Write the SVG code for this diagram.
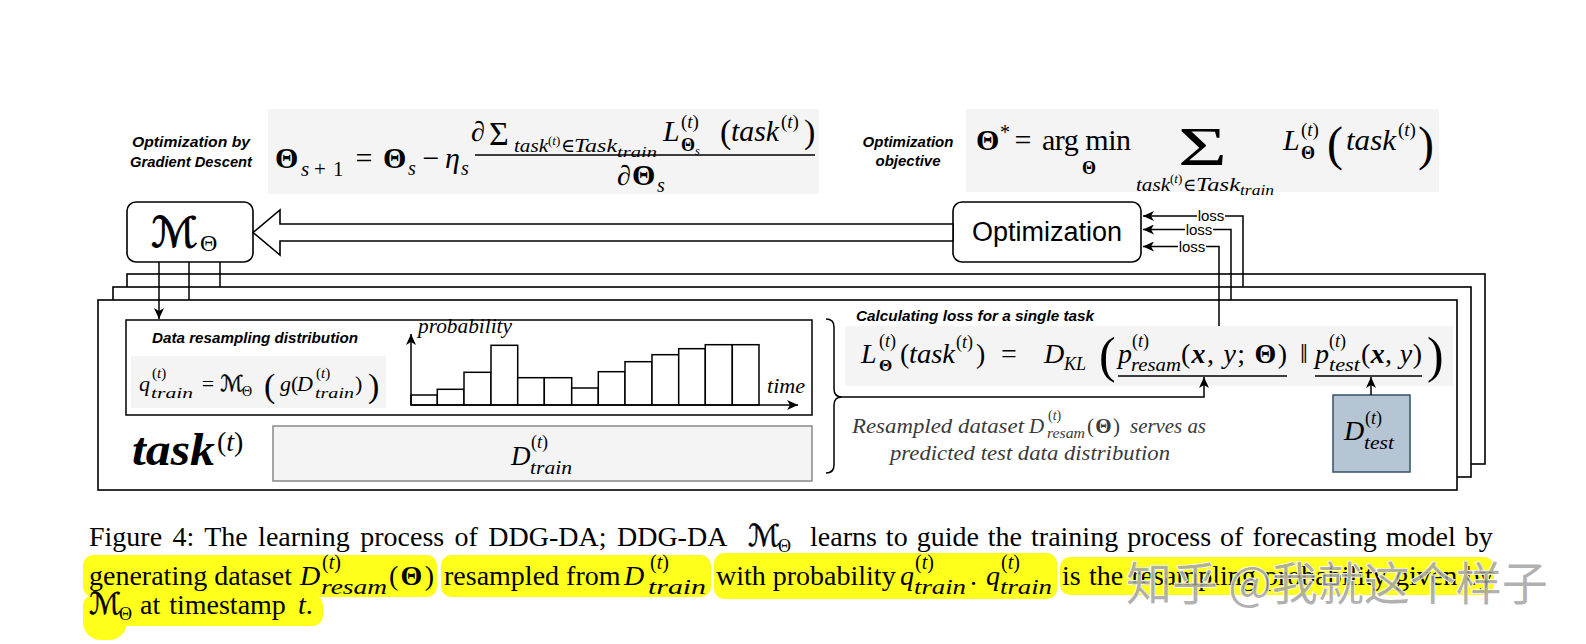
<svg xmlns="http://www.w3.org/2000/svg" width="1586" height="644" viewBox="0 0 1586 644">
<defs>
<style>
.mi{font-family:"Liberation Serif","DejaVu Serif",serif;font-style:italic}
.mr{font-family:"Liberation Serif","DejaVu Serif",serif;font-style:normal;font-weight:normal}
.mb{font-family:"Liberation Serif","DejaVu Serif",serif;font-style:normal;font-weight:bold}
.bx{font-family:"Liberation Serif","DejaVu Serif",serif;font-style:italic;font-weight:bold}
.cal{font-family:"DejaVu Sans","Noto Sans",sans-serif;font-style:normal}
.lbl{font-family:"Liberation Sans",Arial,sans-serif;font-weight:bold;font-style:italic;font-size:14px}
.sans{font-family:"Liberation Sans",Arial,sans-serif}
.gray{fill:#f4f4f4;stroke:none}
.frame{fill:#fff;stroke:#000;stroke-width:1.6}
.node{fill:#fff;stroke:#000;stroke-width:1.6}
.ln{fill:none;stroke:#000;stroke-width:1.5}
.bar{fill:#fff;stroke:#000;stroke-width:1.5}
.cap{font-family:"Liberation Serif","Times New Roman",serif;font-size:28px;fill:#000}
.hl{fill:#ffff1c}
</style>
<marker id="arr" markerUnits="userSpaceOnUse" markerWidth="12" markerHeight="10" refX="11" refY="5" orient="auto">
<path d="M0,0 L11,5 L0,10 L3,5 Z" fill="#000"/>
</marker>
</defs>
<rect width="1586" height="644" fill="#fff"/>

<g id="label-gd">
<text class="lbl" x="191" y="147" text-anchor="middle" style="font-size:15.5px" textLength="118" lengthAdjust="spacingAndGlyphs">Optimization by</text>
<text class="lbl" x="191" y="167" text-anchor="middle" style="font-size:15.5px" textLength="122" lengthAdjust="spacingAndGlyphs">Gradient Descent</text>
</g>
<g id="formula-gd">
<rect class="gray" x="268" y="109" width="551" height="85"/>
<text class="mb" x="275" y="168" font-size="30">Θ</text>
<text class="mi" x="301" y="176" font-size="21">s</text>
<text class="mr" x="314" y="176" font-size="21">+</text>
<text class="mr" x="333" y="176" font-size="21">1</text>
<text class="mr" x="364" y="168" font-size="30" text-anchor="middle">=</text>
<text class="mb" x="383" y="168" font-size="30">Θ</text>
<text class="mi" x="408" y="175" font-size="20">s</text>
<text class="mr" x="431" y="168" font-size="30" text-anchor="middle">−</text>
<text class="mi" x="445" y="168" font-size="30">η</text>
<text class="mi" x="461" y="175" font-size="20">s</text>
<line x1="475" y1="155" x2="815" y2="155" stroke="#000" stroke-width="1.3"/>
<text class="mi" x="471" y="141" font-size="28">∂</text>
<text class="mr" x="489" y="145" font-size="34">Σ</text>
<text class="mi" x="514" y="152" font-size="19" textLength="34" lengthAdjust="spacingAndGlyphs">task</text>
<text class="mr" x="548" y="145" font-size="13">(<tspan class="mi">t</tspan>)</text>
<text class="mr" x="561" y="152" font-size="19">∈</text>
<text class="mi" x="574" y="152" font-size="19" textLength="43" lengthAdjust="spacingAndGlyphs">Task</text>
<text class="mi" x="617" y="157" font-size="14" textLength="40" lengthAdjust="spacingAndGlyphs">train</text>
<text class="mi" x="663" y="141" font-size="30">L</text>
<text class="mr" x="681" y="128" font-size="19">(<tspan class="mi">t</tspan>)</text>
<text class="mb" x="681" y="151" font-size="18">Θ</text>
<text class="mi" x="695" y="155" font-size="12">s</text>
<text class="mr" x="720" y="143" font-size="34">(</text>
<text class="mi" x="731" y="141" font-size="30" textLength="48" lengthAdjust="spacingAndGlyphs">task</text>
<text class="mr" x="781" y="128" font-size="19">(<tspan class="mi">t</tspan>)</text>
<text class="mr" x="804" y="143" font-size="34">)</text>
<text class="mi" x="617" y="185" font-size="28">∂</text>
<text class="mb" x="632" y="185" font-size="30">Θ</text>
<text class="mi" x="657" y="192" font-size="20">s</text>
</g>

<g id="label-obj">
<text class="lbl" x="908" y="147" text-anchor="middle" style="font-size:15px">Optimization</text>
<text class="lbl" x="908" y="166" text-anchor="middle" style="font-size:15px">objective</text>
</g>
<g id="formula-obj">
<rect class="gray" x="966" y="109" width="473" height="83"/>
<text class="mb" x="976" y="150" font-size="30">Θ</text>
<text class="mr" x="1000" y="139" font-size="20">*</text>
<text class="mr" x="1023" y="150" font-size="30" text-anchor="middle">=</text>
<text class="mr" x="1042" y="150" font-size="30" textLength="89">arg min</text>
<text class="mb" x="1089" y="174" font-size="18" text-anchor="middle">Θ</text>
<text class="mr" x="1178" y="165" font-size="54" textLength="49" lengthAdjust="spacingAndGlyphs">Σ</text>
<text class="mi" x="1136" y="191" font-size="18" textLength="34" lengthAdjust="spacingAndGlyphs">task</text>
<text class="mr" x="1170" y="183" font-size="13">(<tspan class="mi">t</tspan>)</text>
<text class="mr" x="1183" y="191" font-size="18">∈</text>
<text class="mi" x="1196" y="191" font-size="18" textLength="44" lengthAdjust="spacingAndGlyphs">Task</text>
<text class="mi" x="1240" y="195" font-size="14" textLength="34" lengthAdjust="spacingAndGlyphs">train</text>
<text class="mi" x="1283" y="150" font-size="30">L</text>
<text class="mr" x="1301" y="136" font-size="19">(<tspan class="mi">t</tspan>)</text>
<text class="mb" x="1301" y="159" font-size="18">Θ</text>
<text class="mr" x="1327" y="160" font-size="48">(</text>
<text class="mi" x="1346" y="150" font-size="30" textLength="50" lengthAdjust="spacingAndGlyphs">task</text>
<text class="mr" x="1398" y="136" font-size="19">(<tspan class="mi">t</tspan>)</text>
<text class="mr" x="1418" y="160" font-size="48">)</text>
</g>

<g id="frame-back"><rect class="frame" x="127" y="274" width="1358" height="190"/></g>
<g id="frame-middle"><rect class="frame" x="113" y="287" width="1358" height="190"/></g>
<g id="frame-front"><rect class="frame" x="98" y="300" width="1359" height="190"/></g>

<g id="node-M">
<rect class="node" x="127" y="202" width="126" height="60" rx="9"/>
<text class="cal" x="151" y="247" font-size="42" textLength="47" lengthAdjust="spacingAndGlyphs" stroke="#000" stroke-width="0.9">ℳ</text>
<text class="mr" x="200" y="251" font-size="24">Θ</text>
</g>

<g id="node-opt">
<rect class="node" x="953" y="202" width="188" height="60" rx="9"/>
<text class="sans" x="1047" y="241" font-size="27" text-anchor="middle">Optimization</text>
</g>

<g id="node-data-resampling">
<rect x="126" y="320" width="686" height="95" fill="#fff" stroke="#000" stroke-width="1.5"/>
<text class="lbl" x="152" y="343" textLength="206" lengthAdjust="spacingAndGlyphs">Data resampling distribution</text>
<rect class="gray" x="131" y="356" width="255" height="52"/>
<text class="mi" x="139" y="391" font-size="22">q</text>
<text class="mr" x="152" y="378" font-size="15">(<tspan class="mi">t</tspan>)</text>
<text class="mi" x="151" y="398" font-size="15" textLength="42" lengthAdjust="spacingAndGlyphs">train</text>
<text class="mr" x="208" y="391" font-size="22" text-anchor="middle">=</text>
<text class="cal" x="220" y="391" font-size="22" stroke="#000" stroke-width="0.4">ℳ</text>
<text class="mr" x="242" y="396" font-size="14">Θ</text>
<text class="mr" x="264" y="397" font-size="34">(</text>
<text class="mi" x="280" y="391" font-size="22">g</text>
<text class="mr" x="291" y="391" font-size="22">(</text>
<text class="mi" x="297" y="391" font-size="22">D</text>
<text class="mr" x="316" y="378" font-size="15">(<tspan class="mi">t</tspan>)</text>
<text class="mi" x="315" y="398" font-size="15" textLength="39" lengthAdjust="spacingAndGlyphs">train</text>
<text class="mr" x="355" y="391" font-size="22">)</text>
<text class="mr" x="368" y="397" font-size="34">)</text>
<g id="histogram">
<rect class="bar" x="411" y="395" width="26.3" height="10"/>
<rect class="bar" x="437.3" y="389.3" width="26.7" height="15.7"/>
<rect class="bar" x="464" y="372.3" width="27" height="32.7"/>
<rect class="bar" x="491" y="345.3" width="26.7" height="59.7"/>
<rect class="bar" x="517.7" y="377.7" width="26.6" height="27.3"/>
<rect class="bar" x="544.3" y="377.7" width="27.4" height="27.3"/>
<rect class="bar" x="571.7" y="388" width="26.6" height="17"/>
<rect class="bar" x="598.3" y="371.7" width="26.7" height="33.3"/>
<rect class="bar" x="625" y="361.7" width="27" height="43.3"/>
<rect class="bar" x="652" y="354.7" width="26.7" height="50.3"/>
<rect class="bar" x="678.7" y="348.7" width="26.6" height="56.3"/>
<rect class="bar" x="705.3" y="344.7" width="27" height="60.3"/>
<rect class="bar" x="732.3" y="344.7" width="26.7" height="60.3"/>
<path class="ln" d="M411,405 V334" marker-end="url(#arr)"/>
<path class="ln" d="M411,405 H798" marker-end="url(#arr)"/>
<text class="mi" x="418" y="333" font-size="20" textLength="94" lengthAdjust="spacingAndGlyphs">probability</text>
<text class="mi" x="767" y="393" font-size="20" textLength="38" lengthAdjust="spacingAndGlyphs">time</text>
</g>
</g>

<g id="node-task-label">
<text class="bx" x="132" y="465" font-size="46" textLength="83" lengthAdjust="spacingAndGlyphs">task</text>
<text class="mr" x="217" y="451" font-size="28">(<tspan class="mi">t</tspan>)</text>
</g>

<g id="node-D-train">
<rect x="273" y="426" width="539" height="55" fill="#f4f4f4" stroke="#888" stroke-width="1.5"/>
<text class="mi" x="511" y="465" font-size="27">D</text>
<text class="mr" x="531" y="448" font-size="18">(<tspan class="mi">t</tspan>)</text>
<text class="mi" x="530" y="474" font-size="18" textLength="42" lengthAdjust="spacingAndGlyphs">train</text>
</g>

<g id="node-brace">
<path class="ln" d="M826,319 Q834,319 834,327 L834,389 Q834,397 842,397 Q834,397 834,405 L834,465 Q834,473 826,473"/>
</g>

<g id="node-loss">
<text class="lbl" x="856" y="321" textLength="238" lengthAdjust="spacingAndGlyphs">Calculating loss for a single task</text>
<rect class="gray" x="845" y="326" width="608" height="60"/>
<text class="mi" x="861" y="363" font-size="28">L</text>
<text class="mr" x="879" y="347" font-size="18">(<tspan class="mi">t</tspan>)</text>
<text class="mb" x="879" y="371" font-size="17">Θ</text>
<text class="mr" x="900" y="363" font-size="28">(</text>
<text class="mi" x="909" y="363" font-size="28" textLength="46" lengthAdjust="spacingAndGlyphs">task</text>
<text class="mr" x="956" y="348" font-size="18">(<tspan class="mi">t</tspan>)</text>
<text class="mr" x="976" y="363" font-size="28">)</text>
<text class="mr" x="1009" y="363" font-size="28" text-anchor="middle">=</text>
<text class="mi" x="1044" y="363" font-size="28">D</text>
<text class="mi" x="1064" y="370" font-size="18">KL</text>
<text class="mr" x="1099" y="372" font-size="50">(</text>
<text class="mi" x="1118" y="363" font-size="28">p</text>
<text class="mr" x="1132" y="347" font-size="18">(<tspan class="mi">t</tspan>)</text>
<text class="mi" x="1131" y="371" font-size="18" textLength="50" lengthAdjust="spacingAndGlyphs">resam</text>
<text class="mr" x="1181" y="363" font-size="28" textLength="106">(<tspan class="bx">x</tspan>, <tspan class="mi">y</tspan>; <tspan class="mb">Θ</tspan>)</text>
<line x1="1118" y1="376" x2="1287" y2="376" stroke="#000" stroke-width="1.4"/>
<text class="mr" x="1300" y="363" font-size="28">‖</text>
<text class="mi" x="1315" y="363" font-size="28">p</text>
<text class="mr" x="1329" y="347" font-size="18">(<tspan class="mi">t</tspan>)</text>
<text class="mi" x="1329" y="371" font-size="18" textLength="31" lengthAdjust="spacingAndGlyphs">test</text>
<text class="mr" x="1361" y="363" font-size="28" textLength="61">(<tspan class="bx">x</tspan>, <tspan class="mi">y</tspan>)</text>
<line x1="1315" y1="376" x2="1422" y2="376" stroke="#000" stroke-width="1.4"/>
<text class="mr" x="1427" y="372" font-size="50">)</text>
</g>

<g id="node-resampled-text" fill="#3a3a3a">
<text class="mi" x="852" y="433" font-size="21" textLength="172" lengthAdjust="spacingAndGlyphs">Resampled dataset</text>
<text class="mi" x="1029" y="433" font-size="21">D</text>
<text class="mr" x="1048" y="420" font-size="14">(<tspan class="mi">t</tspan>)</text>
<text class="mi" x="1047" y="438" font-size="14" textLength="38" lengthAdjust="spacingAndGlyphs">resam</text>
<text class="mr" x="1087" y="433" font-size="21" textLength="33">(<tspan class="mb">Θ</tspan>)</text>
<text class="mi" x="1130" y="433" font-size="21" textLength="76" lengthAdjust="spacingAndGlyphs">serves as</text>
<text class="mi" x="890" y="460" font-size="21" textLength="280" lengthAdjust="spacingAndGlyphs">predicted test data distribution</text>
</g>

<g id="node-D-test">
<rect x="1333" y="395" width="77" height="77" fill="#b5c5d3" stroke="#34506c" stroke-width="1.5"/>
<text class="mi" x="1344" y="440" font-size="28">D</text>
<text class="mr" x="1365" y="424" font-size="18">(<tspan class="mi">t</tspan>)</text>
<text class="mi" x="1364" y="449" font-size="18" textLength="30" lengthAdjust="spacingAndGlyphs">test</text>
</g>

<g id="connectors">
<polygon points="953,224 280,224 280,210 253,232.5 280,255 280,241 953,241" fill="#fff" stroke="#000" stroke-width="1.6"/>
<path class="ln" d="M159,262 V319" marker-end="url(#arr)"/>
<path class="ln" d="M189,262 V300"/>
<path class="ln" d="M220,262 V287"/>
<path class="ln" d="M1243,287 V216 H1143" marker-end="url(#arr)"/>
<path class="ln" d="M1231,300 V229.5 H1143" marker-end="url(#arr)"/>
<path class="ln" d="M1219,326 V246.5 H1143" marker-end="url(#arr)"/>
<rect x="1197" y="208" width="28" height="15" fill="#fff"/>
<text class="sans" x="1211" y="221" font-size="15" text-anchor="middle">loss</text>
<rect x="1185" y="222" width="28" height="15" fill="#fff"/>
<text class="sans" x="1199" y="235" font-size="15" text-anchor="middle">loss</text>
<rect x="1178" y="239" width="28" height="15" fill="#fff"/>
<text class="sans" x="1192" y="252" font-size="15" text-anchor="middle">loss</text>
<path class="ln" d="M842,397 H1204 V377" marker-end="url(#arr)"/>
<path class="ln" d="M1371,395 V377" marker-end="url(#arr)"/>
</g>

<g id="caption">
<g id="highlights">
<rect class="hl" x="83" y="555" width="354" height="42" rx="10"/>
<rect class="hl" x="441" y="555" width="270" height="42" rx="10"/>
<rect class="hl" x="714" y="553" width="343" height="46" rx="10"/>
<rect class="hl" x="1060" y="557" width="434" height="38" rx="10"/>
<rect class="hl" x="83" y="595" width="240" height="31" rx="10"/>
<rect class="hl" x="83" y="600" width="44" height="40" rx="18"/>
</g>
<text class="cap" x="89" y="546" word-spacing="3.4">Figure 4: The learning process of DDG-DA; DDG-DA</text>
<text class="cal" x="748" y="546" font-size="30" stroke="#000" stroke-width="0.5">ℳ</text>
<text class="mr" x="778" y="552" font-size="18">Θ</text>
<text class="cap" x="810" y="546" word-spacing="2">learns to guide the training process of forecasting model by</text>

<text class="cap" x="89" y="585">generating dataset</text>
<text class="mi" x="300" y="585" font-size="28">D</text>
<text class="mr" x="322" y="569" font-size="20">(<tspan class="mi">t</tspan>)</text>
<text class="mi" x="321" y="594" font-size="20" textLength="66" lengthAdjust="spacingAndGlyphs">resam</text>
<text class="mr" x="389" y="585" font-size="28" textLength="45">(<tspan class="mb">Θ</tspan>)</text>
<text class="cap" x="444" y="585">resampled from</text>
<text class="mi" x="624" y="585" font-size="28">D</text>
<text class="mr" x="650" y="569" font-size="20">(<tspan class="mi">t</tspan>)</text>
<text class="mi" x="648" y="594" font-size="20" textLength="58" lengthAdjust="spacingAndGlyphs">train</text>
<text class="cap" x="716" y="585">with probability</text>
<text class="mi" x="900" y="585" font-size="28">q</text>
<text class="mr" x="915" y="569" font-size="20">(<tspan class="mi">t</tspan>)</text>
<text class="mi" x="914" y="594" font-size="20" textLength="52" lengthAdjust="spacingAndGlyphs">train</text>
<text class="cap" x="970" y="585">.</text>
<text class="mi" x="986" y="585" font-size="28">q</text>
<text class="mr" x="1001" y="569" font-size="20">(<tspan class="mi">t</tspan>)</text>
<text class="mi" x="1000" y="594" font-size="20" textLength="52" lengthAdjust="spacingAndGlyphs">train</text>
<text class="cap" x="1062" y="585" word-spacing="1.2">is the resampling probability given by</text>

<text class="cal" x="89" y="614" font-size="30" stroke="#000" stroke-width="0.5">ℳ</text>
<text class="mr" x="119" y="620" font-size="18">Θ</text>
<text class="cap" x="140" y="614" word-spacing="2">at timestamp</text>
<text class="mi" x="298" y="614" font-size="28">t<tspan class="mr">.</tspan></text>
</g>

<g id="watermark">
<text x="1126" y="600" font-family="'Noto Sans CJK SC','Noto Sans',sans-serif" font-size="46" fill="#9c9c9c" fill-opacity="0.8" stroke="#fff" stroke-width="1.5" paint-order="stroke">知乎 @我就这个样子</text>
</g>
</svg>
